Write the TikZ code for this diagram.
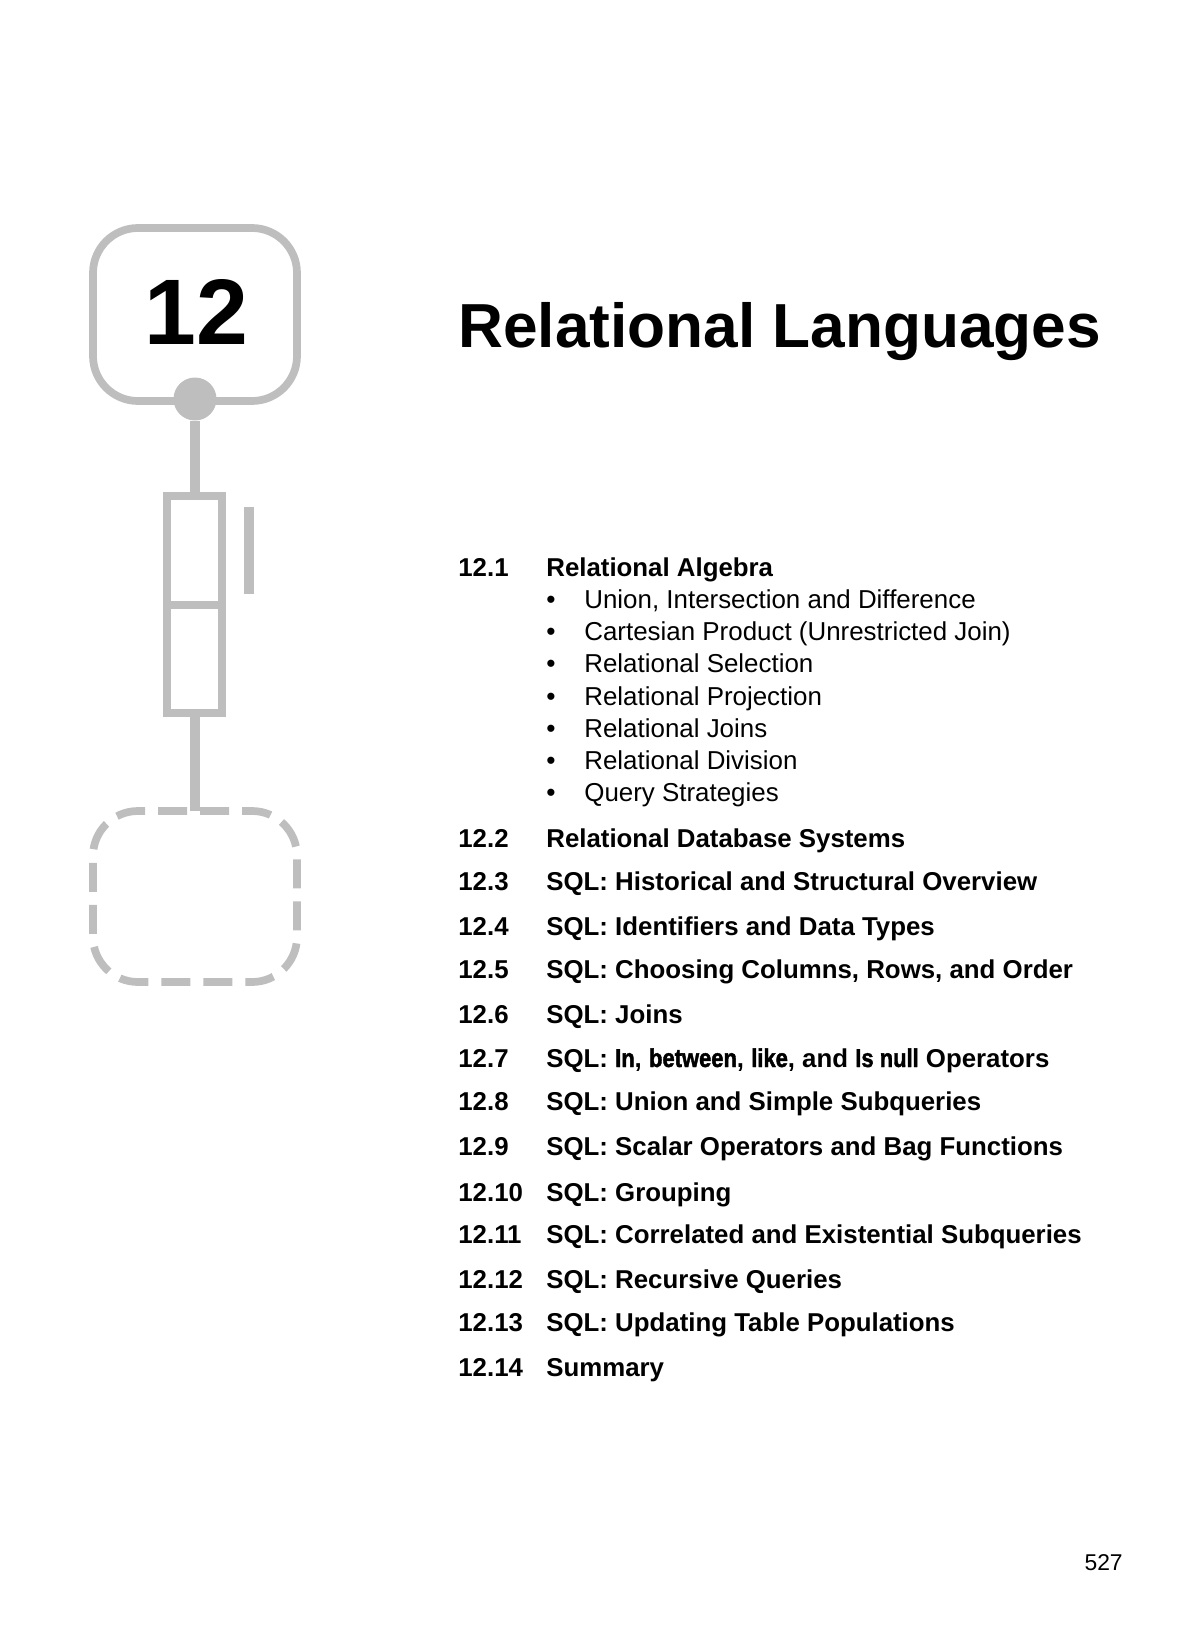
\documentclass[tikz,border=0pt]{standalone}
\usepackage{fontspec}
\setmainfont{Liberation Sans}
\newfontfamily\sqlfont{Liberation Sans}[BoldFeatures={FakeBold=1.6,FakeStretch=0.85}]
\usepackage{tikz}
\usetikzlibrary{calc}
\definecolor{iconGray}{HTML}{BEBEBE}
\tikzset{
  iconline/.style={draw=iconGray, line width=4.4pt},
  stemline/.style={draw=iconGray, line width=5.2pt},
  iconbox/.style={iconline, rounded corners=0.9cm},
  secnum/.style={anchor=base west, inner sep=0pt, font=\fontsize{14.7}{18}\selectfont\bfseries},
  sectitle/.style={anchor=base west, inner sep=0pt, font=\fontsize{14.7}{18}\selectfont\bfseries},
  subitem/.style={anchor=base west, inner sep=0pt, font=\fontsize{14.75}{18}\selectfont},
  bulletmark/.style={anchor=base west, inner sep=0pt, font=\fontsize{15}{18}\selectfont}
}
\begin{document}
\begin{tikzpicture}[x=0.02cm, y=-0.02cm]
\useasboundingbox (0,0) rectangle (1200,1649);
% chapter badge
\draw[iconbox] (93,228) rectangle (297,401);
\node[inner sep=0pt, font=\fontsize{53}{60}\selectfont\bfseries] (chapnum) at (196.5,312) {12};
\node[circle, fill=iconGray, inner sep=0pt, minimum size=0.86cm] (joint) at (195,399) {};
% link box
\coordinate (rtop) at (195,496);
\coordinate (rbot) at (195,713);
\draw[iconline] (167,496) rectangle (222,713);
\draw[iconline] (167,605)--(222,605);
\draw[stemline] (249,507)--(249,594);
\draw[stemline] (joint)--(rtop);
\coordinate (dtop) at (195,811);
\draw[stemline] (rbot)--(dtop);
\draw[iconbox, dash pattern=on 0.58cm off 0.26cm, dash phase=0.7cm] (93,811) rectangle (297,982);
% heading
\node[anchor=base west, inner sep=0pt, font=\fontsize{35.4}{42}\selectfont\bfseries] (chaptitle) at (458,347) {Relational Languages};
% sections
\foreach \i/\y/\n/\t in {a/576/12.1/Relational Algebra,
  b/847/12.2/Relational Database Systems,
  c/890/12.3/SQL: Historical and Structural Overview,
  d/935/12.4/SQL: Identifiers and Data Types,
  e/978/12.5/{SQL: Choosing Columns, Rows, and Order},
  f/1023/12.6/SQL: Joins,
  g/1067/12.7/{SQL: {\sqlfont In}, {\sqlfont between}, {\sqlfont like}, and {\sqlfont Is null} Operators},
  h/1110/12.8/SQL: Union and Simple Subqueries,
  j/1155/12.9/SQL: Scalar Operators and Bag Functions,
  k/1201/12.10/SQL: Grouping,
  l/1243/12.11/SQL: Correlated and Existential Subqueries,
  m/1288/12.12/SQL: Recursive Queries,
  n/1331/12.13/SQL: Updating Table Populations,
  o/1376/12.14/Summary}
{
  \node[secnum] (num\i) at (458,\y) {\n};
  \node[sectitle] (sec\i) at (546,\y) {\t};
}
% bullets
\foreach \i/\y/\t in {1/608/{Union, Intersection and Difference},
  2/640/Cartesian Product (Unrestricted Join),
  3/672/Relational Selection,
  4/705/Relational Projection,
  5/737/Relational Joins,
  6/769/Relational Division,
  7/801/Query Strategies}
{
  \node[bulletmark] (dot\i) at (546,\y) {•};
  \node[subitem] (item\i) at (584,\y) {\t};
}
\node[anchor=base east, inner sep=0pt, font=\fontsize{13}{16}\selectfont] (pagenum) at (1123,1570) {527};
\end{tikzpicture}
\end{document}
